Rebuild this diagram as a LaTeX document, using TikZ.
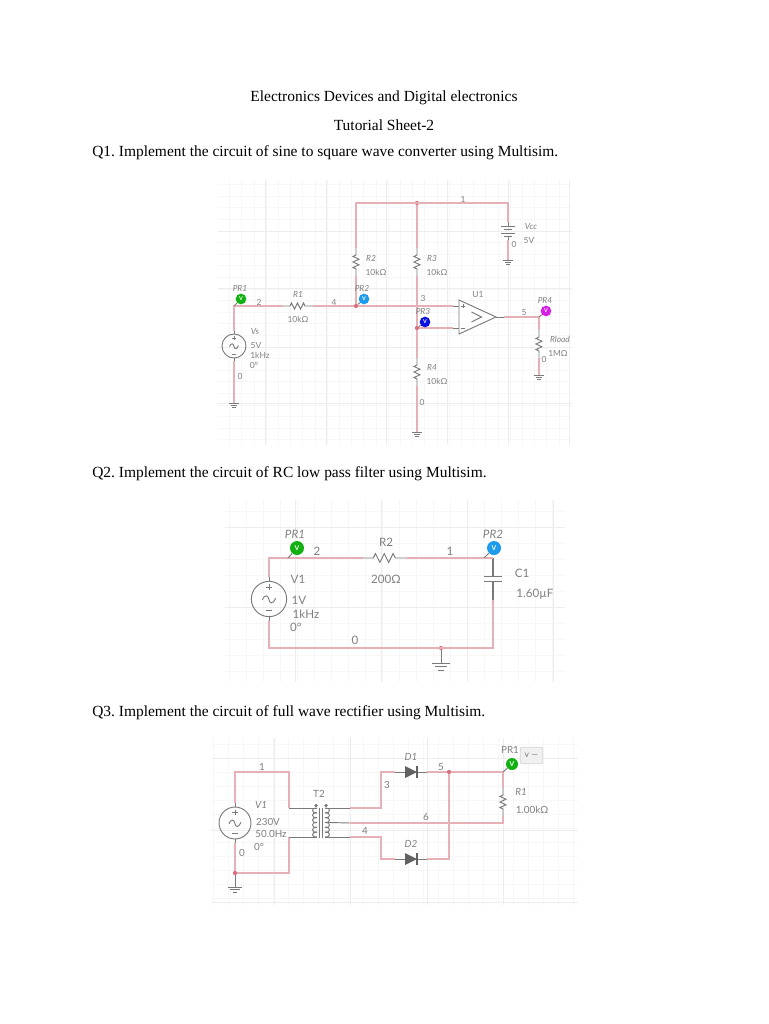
\documentclass[tikz,border=0pt]{standalone}
\usepackage{fontspec}
\setmainfont{Liberation Serif}
\newfontfamily\labfont{Lato}
\usetikzlibrary{arrows.meta,positioning}
\definecolor{wirepink}{HTML}{E6B0B7}
\definecolor{leadgray}{HTML}{7A7A7A}
\definecolor{labgray}{HTML}{7F7F7F}
\definecolor{jointred}{HTML}{D9707F}
\definecolor{gridmajor}{HTML}{EDEDED}
\definecolor{gridminor}{HTML}{F7F7F7}
\definecolor{probegreen}{HTML}{12B012}
\definecolor{probesky}{HTML}{1E9BEA}
\definecolor{probeblue}{HTML}{0A10E0}
\definecolor{probeviolet}{HTML}{D420E4}
\tikzset{
  wire/.style={draw=wirepink,line width=0.95pt,line join=miter},
  lead/.style={draw=leadgray,line width=0.7pt},
  major/.style={draw=gridmajor,line width=0.5pt},
  minor/.style={draw=gridminor,line width=0.35pt},
  sheet/.style={anchor=west,inner sep=0pt,font=\fontsize{11.6}{14}\selectfont},
  heading/.style={font=\fontsize{11.6}{14}\selectfont},
  laba/.style={text=labgray,inner sep=0pt,font=\labfont\fontsize{6.3}{7}\selectfont},
  labb/.style={text=labgray,inner sep=0pt,font=\labfont\fontsize{8.7}{10}\selectfont},
  labc/.style={text=labgray,inner sep=0pt,font=\labfont\fontsize{7.4}{9}\selectfont},
  joint/.style={circle,fill=jointred,inner sep=0pt,minimum size=3.2pt},
  probe/.style={circle,fill=#1,text=white,inner sep=0pt,minimum size=8pt,font=\labfont\bfseries\fontsize{4}{4}\selectfont},
  bigprobe/.style={probe=#1,minimum size=10.5pt,font=\labfont\bfseries\fontsize{5}{5}\selectfont},
  reshor/.pic={
    \coordinate (-a) at (-15,0);
    \coordinate (-b) at (15,0);
    \draw[lead] (-15,0) -- (-8,0) -- (-6.5,-3) -- (-3.5,3) -- (-0.5,-3) -- (2.5,3) -- (5.5,-3) -- (7,0) -- (15,0);
  },
  resver/.pic={
    \coordinate (-a) at (0,-14);
    \coordinate (-b) at (0,14);
    \draw[lead] (0,-14) -- (0,-7) -- (-3,-5.5) -- (3,-2.8) -- (-3,0) -- (3,2.8) -- (-3,5.5) -- (0,7) -- (0,14);
  },
  ground/.pic={
    \coordinate (-a) at (0,0);
    \draw[lead] (-5,0) -- (5,0) (-3.3,2) -- (3.3,2) (-1.7,4) -- (1.7,4);
  },
  source/.pic={
    \coordinate (-a) at (0,-15);
    \coordinate (-b) at (0,15);
    \draw[lead] (0,-15) -- (0,-12) (0,12) -- (0,15);
    \draw[lead] (0,0) circle [radius=12];
    \draw[lead] (-4.5,0.5) .. controls (-2.5,-4) and (-0.5,-2) .. (0,0.5) .. controls (0.5,3) and (2.5,4) .. (4.5,-0.5);
    \draw[lead] (-2,-8) -- (2,-8) (0,-10) -- (0,-6) (-2,8) -- (2,8);
  },
  battery/.pic={
    \coordinate (-a) at (0,-9);
    \coordinate (-b) at (0,9);
    \draw[lead] (0,-9) -- (0,-5) (-7,-5) -- (7,-5) (-4,-1.5) -- (4,-1.5) (-7,2) -- (7,2) (-4,5) -- (4,5) (0,5) -- (0,9);
  },
  capver/.pic={
    \coordinate (-a) at (0,-21);
    \coordinate (-b) at (0,21);
    \draw[lead,line width=0.9pt] (0,-21) -- (0,-2.5) (-9,-2.5) -- (9,-2.5) (-9,2.5) -- (9,2.5) (0,2.5) -- (0,21);
  },
  diode/.pic={
    \coordinate (-a) at (-16,0);
    \coordinate (-b) at (16,0);
    \draw[lead] (-16,0) -- (16,0);
    \fill[leadgray!80!black] (-6,-6) -- (6,0) -- (-6,6) -- cycle;
    \draw[leadgray!80!black,line width=0.9pt] (6,-6) -- (6,6);
  },
  opamp/.pic={
    \coordinate (-p) at (-25,-11);
    \coordinate (-n) at (-25,11);
    \coordinate (-o) at (26,0);
    \draw[lead] (-25,-11) -- (-18.5,-11) (-25,11) -- (-18.5,11) (18.5,0) -- (26,0);
    \draw[lead,fill=white] (-18.5,-17) -- (18.5,0) -- (-18.5,17) -- cycle;
    \draw[lead] (-6,-5) -- (4,0) -- (-6,5);
    \draw[lead,line width=0.5pt] (-16.5,-11) -- (-12.5,-11) (-14.5,-13) -- (-14.5,-9) (-16.5,11) -- (-12.5,11);
  },
  coils/.pic={
    \coordinate (-p1) at (-9,-14.5);
    \coordinate (-p2) at (-9,14.5);
    \coordinate (-s1) at (9,-14.5);
    \coordinate (-st) at (9,0);
    \coordinate (-s2) at (9,14.5);
    \foreach \k in {0,...,5} {
      \draw[lead] (-4,-14.5+\k*4.83) .. controls (-10,-15.5+\k*4.83) and (-10,-8.5+\k*4.83) .. (-4,-9.67+\k*4.83);
      \draw[lead] (4,-14.5+\k*4.83) .. controls (10,-15.5+\k*4.83) and (10,-8.5+\k*4.83) .. (4,-9.67+\k*4.83);
    }
    \draw[lead] (-1.6,-15) -- (-1.6,15) (1.6,-15) -- (1.6,15);
    \draw[lead] (-9,-14.5) -- (-4,-14.5) (-9,14.5) -- (-4,14.5) (9,-14.5) -- (4,-14.5) (9,0) -- (6,0) (9,14.5) -- (4,14.5);
    \draw[lead,fill=white] (-5,-17) circle [radius=1.1] (5,-17) circle [radius=1.1];
  }
}
\frenchspacing
\begin{document}
\begin{tikzpicture}[x=0.75pt,y=-0.75pt]
  \useasboundingbox (0,0) rectangle (768,1024);
  % page text
  \node (title) [heading] at (384,97.5) {Electronics Devices and Digital electronics};
  \node (subtitle) [heading] at (384,125) {Tutorial Sheet-2};
  \node (qone) [sheet] at (92,153) {Q1. Implement the circuit of sine to square wave converter using Multisim.};
  \node (qtwo) [sheet] at (92,474) {Q2. Implement the circuit of RC low pass filter using Multisim.};
  \node (qthree) [sheet] at (92,713) {Q3. Implement the circuit of full wave rectifier using Multisim.};

  % grid of first panel
  \foreach \gx in {229.5,241.7,...,570} \draw[minor] (\gx,180) -- (\gx,445);
  \foreach \gy in {184.4,196,...,445} \draw[minor] (218,\gy) -- (572,\gy);
  \foreach \gx in {265.7,326.7,386.7,447,508,569} \draw[major] (\gx,180) -- (\gx,445);
  \foreach \gy in {231,288,347,403} \draw[major] (218,\gy) -- (572,\gy);

  % first circuit
  \coordinate (atop) at (356,203);
  \coordinate (atopr) at (508,203);
  \coordinate (acorner) at (234,306);
  \coordinate (aout) at (539,317);
  \node (ja1) [joint] at (417,203) {};
  \node (ja2) [joint] at (356,306) {};
  \node (ja3) [joint] at (417,328) {};
  \pic (vcc) at (508,231) {battery};
  \pic (gvcc) at (508,260) {ground};
  \pic (r2a) at (356,262) {resver};
  \pic (r3a) at (417,262) {resver};
  \pic (r4a) at (417,372) {resver};
  \pic (r1a) at (298,306) {reshor};
  \pic (vsa) at (234,346) {source};
  \pic (gvs) at (234,403) {ground};
  \pic (gr4) at (417,432) {ground};
  \pic (u1) at (477.5,317) {opamp};
  \pic (rl) at (539,344) {resver};
  \pic (grl) at (539,375) {ground};
  \draw[wire] (r2a-a) |- (atopr) -- (vcc-a);
  \draw[wire] (vcc-b) -- (gvcc-a);
  \draw[wire] (ja1) -- (r3a-a);
  \draw[wire] (r3a-b) -- (ja3) -- (r4a-a);
  \draw[wire] (r4a-b) -- (gr4-a);
  \draw[wire] (r2a-b) -- (ja2);
  \draw[wire] (vsa-a) -- (acorner) -- (r1a-a);
  \draw[wire] (r1a-b) -- (ja2) -- (u1-p);
  \draw[wire] (ja3) -- (u1-n);
  \draw[wire] (vsa-b) -- (gvs-a);
  \draw[wire] (u1-o) -- (aout) -- (rl-a);
  \draw[wire] (rl-b) -- (grl-a);
  \node (pa1) [probe=probegreen] at (241,299) {V};
  \node (pa2) [probe=probesky] at (364,299) {V};
  \node (pa3) [probe=probeblue] at (425,322) {V};
  \node (pa4) [probe=probeviolet] at (546,311) {V};
  \draw[lead] (pa1) -- (acorner);
  \draw[lead] (pa2) -- (ja2);
  \draw[lead] (pa3) -- (ja3);
  \draw[lead] (pa4) -- (aout);
  \node (la1) [laba] at (463,199) {1};
  \node (la2) [laba] at (531,227) {\itshape Vcc};
  \node (la3) [laba] at (529,241) {5V};
  \node (la4) [laba] at (514,244) {0};
  \node (la5) [laba] at (371,258) {\itshape R2};
  \node (la6) [laba] at (376,272) {10kΩ};
  \node (la7) [laba] at (432,258) {\itshape R3};
  \node (la8) [laba] at (437,272) {10kΩ};
  \node (la9) [laba] at (240,288) {\itshape PR1};
  \node (la10) [laba] at (259,302) {2};
  \node (la11) [laba] at (298,294) {\itshape R1};
  \node (la12) [laba] at (334,302) {4};
  \node (la13) [laba] at (298,319) {10kΩ};
  \node (la14) [laba] at (362,288) {\itshape PR2};
  \node (la15) [laba] at (423,298) {3};
  \node (la16) [laba] at (423,311) {\itshape PR3};
  \node (la17) [laba] at (478,295) {U1};
  \node (la18) [laba] at (545,300) {\itshape PR4};
  \node (la19) [laba] at (524,313) {5};
  \node (la20) [laba] at (560,339) {\itshape Rload};
  \node (la21) [laba] at (558,353) {1MΩ};
  \node (la22) [laba] at (544,359) {0};
  \node (la23) [laba] at (255,332) {\itshape Vs};
  \node (la24) [laba] at (256,346) {5V};
  \node (la25) [laba] at (260,355) {1kHz};
  \node (la26) [laba] at (254,365) {0°};
  \node (la27) [laba] at (240,376) {0};
  \node (la28) [laba] at (432,367) {\itshape R4};
  \node (la29) [laba] at (437,381) {10kΩ};
  \node (la30) [laba] at (422,402) {0};

  % grid of second panel
  \foreach \gx in {229,246,...,565} \draw[minor] (\gx,500) -- (\gx,682);
  \foreach \gy in {511,527,...,682} \draw[minor] (225,\gy) -- (565,\gy);
  \foreach \gx in {295,381,467,553} \draw[major] (\gx,500) -- (\gx,682);
  \foreach \gy in {527,607} \draw[major] (225,\gy) -- (565,\gy);

  % second circuit
  \coordinate (btl) at (269,558);
  \coordinate (btr) at (493,558);
  \coordinate (bbl) at (269,648);
  \coordinate (bbr) at (493,648);
  \node (jb1) [joint] at (441,648) {};
  \pic (vb) [scale=1.47] at (269,599) {source};
  \pic (r2b) [scale=1.47] at (385,558) {reshor};
  \pic (c1b) at (493,579) {capver};
  \pic (gb) [scale=1.8] at (441,663) {ground};
  \draw[wire] (vb-a) -- (btl) -- (r2b-a);
  \draw[wire] (r2b-b) -- (btr) -- (c1b-a);
  \draw[wire] (c1b-b) -- (bbr) -- (bbl) -- (vb-b);
  \draw[lead] (jb1) -- (gb-a);
  \coordinate (bpr1) at (288,558);
  \coordinate (bpr2) at (484,558);
  \node (pb1) [bigprobe=probegreen] at (297,548) {V};
  \node (pb2) [bigprobe=probesky] at (494,548) {V};
  \draw[lead] (pb1) -- (bpr1);
  \draw[lead] (pb2) -- (bpr2);
  \node (lb1) [labb] at (295,534) {\itshape PR1};
  \node (lb2) [labb] at (317,551) {2};
  \node (lb3) [labb] at (386,542) {R2};
  \node (lb4) [labb] at (386,579) {200Ω};
  \node (lb5) [labb] at (450,551) {1};
  \node (lb6) [labb] at (493,534) {\itshape PR2};
  \node (lb7) [labb] at (522,573) {C1};
  \node (lb8) [labb] at (535,594) {1.60µF};
  \node (lb9) [labb] at (298,579) {V1};
  \node (lb10) [labb] at (299,600) {1V};
  \node (lb11) [labb] at (306,614) {1kHz};
  \node (lb12) [labb] at (296,627) {0°};
  \node (lb13) [labb] at (355,640) {0};

  % grid of third panel
  \foreach \gx in {213,228,...,578} \draw[minor] (\gx,738) -- (\gx,905);
  \foreach \gy in {744,758,...,905} \draw[minor] (212,\gy) -- (578,\gy);
  \foreach \gx in {274,350,427,503} \draw[major] (\gx,738) -- (\gx,905);
  \foreach \gy in {758,830,902} \draw[major] (212,\gy) -- (578,\gy);

  % third circuit
  \coordinate (ctl) at (235,772);
  \coordinate (ctm) at (289,772);
  \coordinate (cpt) at (289,808);
  \coordinate (cpb) at (289,837);
  \coordinate (cbm) at (289,873);
  \coordinate (cs1) at (381,808);
  \coordinate (cs1g) at (350,808);
  \coordinate (cd1) at (381,772);
  \coordinate (cs2) at (381,837);
  \coordinate (cs2g) at (350,837);
  \coordinate (cd2) at (381,859);
  \coordinate (cd2r) at (449,859);
  \coordinate (cstg) at (350,823);
  \coordinate (crt) at (503,772);
  \coordinate (crb) at (503,823);
  \node (jc1) [joint] at (449,772) {};
  \node (jc2) [joint] at (235,873) {};
  \pic (vc) [scale=1.33] at (235,823) {source};
  \pic (t2) at (321,822.5) {coils};
  \pic (d1) at (411,772) {diode};
  \pic (d2) at (411,859) {diode};
  \pic (r1c) at (503,802) {resver};
  \pic (gc) [scale=1.4] at (235,887) {ground};
  \draw[wire] (vc-a) -- (ctl) -- (ctm) -- (cpt);
  \draw[lead] (cpt) -- (t2-p1);
  \draw[wire] (vc-b) -- (jc2) -- (cbm) -- (cpb);
  \draw[lead] (cpb) -- (t2-p2);
  \draw[lead] (jc2) -- (gc-a);
  \draw[lead] (t2-s1) -- (cs1g);
  \draw[wire] (cs1g) -- (cs1) -- (cd1) -- (d1-a);
  \draw[wire] (d1-b) -- (jc1) -- (crt) -- (r1c-a);
  \draw[lead] (t2-st) -- (cstg);
  \draw[wire] (cstg) -- (crb) -- (r1c-b);
  \draw[lead] (t2-s2) -- (cs2g);
  \draw[wire] (cs2g) -- (cs2) -- (cd2) -- (d2-a);
  \draw[wire] (d2-b) -- (cd2r) -- (jc1);
  \node (pc1) [bigprobe=probegreen,minimum size=9pt] at (512,764) {V};
  \draw[lead] (pc1) -- (crt);
  \node (vbtn) [draw=gridmajor!80!gray,fill=gray!12,rounded corners=1.5pt,line width=0.6pt,text=labgray,inner sep=0pt,minimum width=17pt,minimum height=12.5pt,font=\labfont\fontsize{6.5}{8}\selectfont] at (531.5,755.5) {v —};
  \node (lc1) [labc] at (510,750) {PR1};
  \node (lc2) [labc] at (262,767) {1};
  \node (lc3) [labc] at (319,794) {T2};
  \node (lc4) [labc] at (261,805) {\itshape V1};
  \node (lc5) [labc] at (268,822) {230V};
  \node (lc6) [labc] at (271,834) {50.0Hz};
  \node (lc7) [labc] at (259,847) {0°};
  \node (lc8) [labc] at (242,853) {0};
  \node (lc9) [labc] at (411,757) {\itshape D1};
  \node (lc10) [labc] at (387,785) {3};
  \node (lc11) [labc] at (441,767) {5};
  \node (lc12) [labc] at (426,817) {6};
  \node (lc13) [labc] at (365,831) {4};
  \node (lc14) [labc] at (411,844) {\itshape D2};
  \node (lc15) [labc] at (521,792) {\itshape R1};
  \node (lc16) [labc] at (532,810) {1.00kΩ};
\end{tikzpicture}
\end{document}
